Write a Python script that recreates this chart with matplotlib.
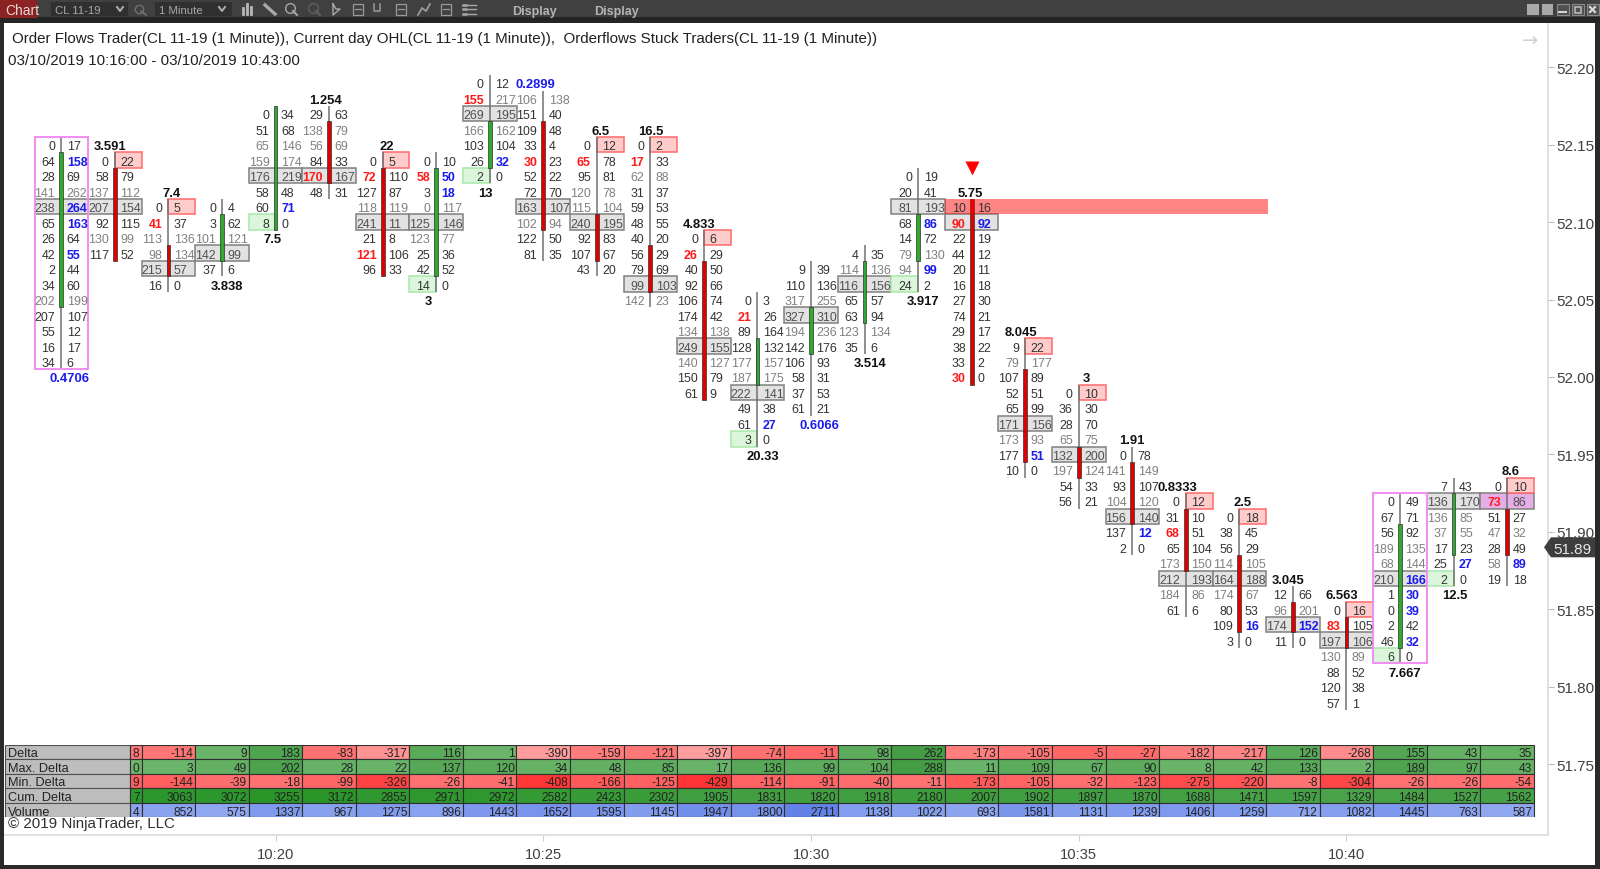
import matplotlib
matplotlib.use("Agg")
import matplotlib.pyplot as plt
from matplotlib.patches import Rectangle, Polygon
from matplotlib.lines import Line2D
from matplotlib.transforms import Affine2D

plt.rcParams['font.family'] = ['Liberation Sans', 'DejaVu Sans']

# ---------- data ----------
minutes = list(range(16, 44))
top_cents = [5215, 5214, 5211, 5211, 5217, 5217, 5214, 5214, 5219, 5218, 5215, 5215, 5209, 5205,
             5207, 5208, 5213, 5211, 5202, 5199, 5195, 5192, 5191, 5186, 5185, 5192, 5193, 5193]
bid_volumes = [
    [0, 64, 28, 141, 238, 65, 26, 42, 2, 34, 202, 207, 55, 16, 34],
    [0, 58, 137, 207, 92, 130, 117],
    [0, 41, 113, 98, 215, 16],
    [0, 3, 101, 142, 37],
    [0, 51, 65, 159, 176, 58, 60, 8],
    [29, 138, 56, 84, 170, 48],
    [0, 72, 127, 118, 241, 21, 121, 96],
    [0, 58, 3, 0, 125, 123, 25, 42, 14],
    [0, 155, 269, 166, 103, 26, 2],
    [106, 151, 109, 33, 30, 52, 72, 163, 102, 122, 81],
    [0, 65, 95, 120, 115, 240, 92, 107, 43],
    [0, 17, 62, 31, 59, 48, 40, 56, 79, 99, 142],
    [0, 26, 40, 92, 106, 174, 134, 249, 140, 150, 61],
    [0, 21, 89, 128, 177, 187, 222, 49, 61, 3],
    [9, 110, 317, 327, 194, 142, 106, 58, 37, 61],
    [4, 114, 116, 65, 63, 123, 35],
    [0, 20, 81, 68, 14, 79, 94, 24],
    [10, 90, 22, 44, 20, 16, 27, 74, 29, 38, 33, 30],
    [9, 79, 107, 52, 65, 171, 173, 177, 10],
    [0, 36, 28, 65, 132, 197, 54, 56],
    [0, 141, 93, 104, 156, 137, 2],
    [0, 31, 68, 65, 173, 212, 184, 61],
    [0, 38, 56, 114, 164, 174, 80, 109, 3],
    [12, 96, 174, 11],
    [0, 83, 197, 130, 88, 120, 57],
    [0, 67, 56, 189, 68, 210, 1, 0, 2, 46, 6],
    [7, 136, 136, 37, 17, 25, 2],
    [0, 73, 51, 47, 28, 58, 19],
]
ask_volumes = [
    [17, 158, 69, 262, 264, 163, 64, 55, 44, 60, 199, 107, 12, 17, 6],
    [22, 79, 112, 154, 115, 99, 52],
    [5, 37, 136, 134, 57, 0],
    [4, 62, 121, 99, 6],
    [34, 68, 146, 174, 219, 48, 71, 0],
    [63, 79, 69, 33, 167, 31],
    [5, 110, 87, 119, 11, 8, 106, 33],
    [10, 50, 18, 117, 146, 77, 36, 52, 0],
    [12, 217, 195, 162, 104, 32, 0],
    [138, 40, 48, 4, 23, 22, 70, 107, 94, 50, 35],
    [12, 78, 81, 78, 104, 195, 83, 67, 20],
    [2, 33, 88, 37, 53, 55, 20, 29, 69, 103, 23],
    [6, 29, 50, 66, 74, 42, 138, 155, 127, 79, 9],
    [3, 26, 164, 132, 157, 175, 141, 38, 27, 0],
    [39, 136, 255, 310, 236, 176, 93, 31, 53, 21],
    [35, 136, 156, 57, 94, 134, 6],
    [19, 41, 193, 86, 72, 130, 99, 2],
    [16, 92, 19, 12, 11, 18, 30, 21, 17, 22, 2, 0],
    [22, 177, 89, 51, 99, 156, 93, 51, 0],
    [10, 30, 70, 75, 200, 124, 33, 21],
    [78, 149, 107, 120, 140, 12, 0],
    [12, 10, 51, 104, 150, 193, 86, 6],
    [18, 45, 29, 105, 188, 67, 53, 16, 0],
    [66, 201, 152, 0],
    [16, 105, 106, 89, 52, 38, 1],
    [49, 71, 92, 135, 144, 166, 30, 39, 42, 32, 0],
    [43, 170, 85, 55, 23, 27, 0],
    [10, 86, 27, 32, 49, 89, 18],
]
poc_row = [4, 3, 4, 3, 4, 4, 4, 4, 2, 7, 5, 9, 7, 6, 3, 2, 2, 1, 5, 4, 4, 5, 4, 2, 2, 5, 1, 1]
body_first = [1, 1, 3, 1, 0, 1, 1, 1, 3, 2, 5, 7, 2, 3, 3, 1, 3, 0, 2, 4, 1, 1, 3, 1, 1, 2, 1, 2]
body_last = [10, 6, 4, 3, 7, 4, 7, 7, 5, 8, 7, 9, 10, 5, 5, 4, 5, 11, 7, 5, 4, 4, 7, 2, 2, 9, 4, 4]
bar_up = [1, 0, 0, 1, 1, 0, 0, 1, 1, 0, 0, 0, 0, 1, 1, 1, 1, 0, 0, 0, 0, 0, 0, 0, 0, 1, 1, 0]
red_top_ask = [1, 2, 6, 10, 11, 12, 18, 19, 21, 22, 24, 27]
green_low_bid = [4, 7, 8, 13, 16, 25, 26]
red_bids = {2: [1], 5: [4], 6: [1, 6], 7: [1], 8: [1], 9: [4], 10: [1], 11: [1], 12: [1], 13: [1],
            17: [1, 11], 21: [2], 24: [1], 27: [1]}
blue_asks = {0: [1, 4, 5, 7], 4: [6], 7: [1, 2], 8: [5], 13: [8], 16: [3, 6], 17: [1], 18: [7],
             20: [5], 22: [7], 23: [2], 25: [5, 6, 7, 9], 26: [5], 27: [5]}
faded_rows = {0: [3, 10], 1: [2, 5], 2: [2, 3], 3: [2], 4: [2, 3], 5: [1, 2], 6: [3], 7: [3, 5], 8: [1, 3],
              9: [0, 8], 10: [3, 4], 11: [2, 10], 12: [6, 8], 13: [4, 5], 14: [2, 4], 15: [1, 5], 16: [5, 6],
              18: [1, 6], 19: [3, 5], 20: [1, 3], 21: [4, 6], 22: [3, 5], 23: [1], 24: [3], 25: [3, 4],
              26: [2, 3], 27: [3, 5]}
ratio_labels = ['0.4706', '3.591', '7.4', '3.838', '7.5', '1.254', '22', '3', '13', '0.2899', '6.5', '16.5',
                '4.833', '20.33', '0.6066', '3.514', '3.917', '5.75', '8.045', '3', '1.91', '0.8333',
                '2.5', '3.045', '6.563', '7.667', '12.5', '8.6']
label_above = [0, 1, 1, 0, 0, 1, 1, 0, 0, 1, 1, 1, 1, 0, 0, 0, 0, 1, 1, 1, 1, 1, 1, 1, 1, 0, 0, 1]
label_shift_px = [8.7, -5, 3, 5, -2.5, -4, 4.5, -8, -4, -8, 3.3, 0, -5, 5.5, 8, 5, 5, -1, -4.7, 8, -0.7, -8,
                  3, -5, -5, 5, 1.5, 3]
blue_labels = ['0.4706', '0.2899', '0.6066']
framed_bars = [0, 25]
stuck_bar = 17
stuck_price = 52.11
stuck_end_minute = 38.54

row_names = ['Delta', 'Max. Delta', 'Min. Delta', 'Cum. Delta', 'Volume']
hidden_digits = ['8', '0', '9', '7', '4']
delta = [-114, 9, 183, -83, -317, 116, 1, -390, -159, -121, -397, -74, -11, 98, 262, -173, -105, -5, -27,
         -182, -217, 126, -268, 155, 43, 35]
max_delta = [3, 49, 202, 28, 22, 137, 120, 34, 48, 85, 17, 136, 99, 104, 288, 11, 109, 67, 90, 8, 42, 133, 2,
             189, 97, 43]
min_delta = [-144, -39, -18, -99, -326, -26, -41, -408, -166, -125, -429, -114, -91, -40, -11, -173, -105, -32,
             -123, -275, -220, -8, -304, -26, -26, -54]
cum_delta = [3063, 3072, 3255, 3172, 2855, 2971, 2972, 2582, 2423, 2302, 1905, 1831, 1820, 1918, 2180, 2007,
             1902, 1897, 1870, 1688, 1471, 1597, 1329, 1484, 1527, 1562]
volume = [852, 575, 1337, 967, 1275, 896, 1443, 1652, 1595, 1145, 1947, 1800, 2711, 1138, 1022, 693, 1581,
          1131, 1239, 1406, 1259, 712, 1082, 1445, 763, 587]
price_ticks = [51.75, 51.80, 51.85, 51.90, 51.95, 52.00, 52.05, 52.10, 52.15, 52.20]
time_ticks = [20, 25, 30, 35, 40]
time_labels = ['10:20', '10:25', '10:30', '10:35', '10:40']
last_price = 51.89

# ---------- layout ----------
W, H = 1600, 870
PX_PER_MIN = 53.55
PX_PER_USD = 1548.5
X20, Y5215 = 275.5, 145.7
AX_L, AX_R, AX_T, AX_B = 4, 1548, 24, 835.7


def min_at(px):
    return 20 + (px - X20) / PX_PER_MIN


def price_at(py):
    return 52.15 - (py - Y5215) / PX_PER_USD


fig = plt.figure(figsize=(W / 100, H / 100), dpi=100, facecolor='white')
ax = fig.add_axes([AX_L / W, 1 - AX_B / H, (AX_R - AX_L) / W, (AX_B - AX_T) / H])
ax.set_xlim(min_at(AX_L), min_at(AX_R))
ax.set_ylim(price_at(AX_B), price_at(AX_T))
for s in ['top', 'left']:
    ax.spines[s].set_visible(False)
for s in ['right', 'bottom']:
    ax.spines[s].set_color('#dcdcdc')
    ax.spines[s].set_linewidth(1.2)
ax.yaxis.tick_right()
ax.set_yticks(price_ticks, [f'{p:.2f}' for p in price_ticks])
ax.set_xticks(time_ticks, time_labels)
ax.tick_params(axis='y', length=4, color='#bdbdbd', labelsize=11, labelcolor='#404040', pad=2)
ax.tick_params(axis='x', length=4, color='#cfcfcf', labelsize=10.6, labelcolor='#404040', pad=5)

HALF_W = 26.8 / PX_PER_MIN
ROW = 0.01
BID_OFF = 6 / PX_PER_MIN
ASK_OFF = 5.5 / PX_PER_MIN
FS = 8.9

for i, m in enumerate(minutes):
    top = top_cents[i] / 100
    bids, asks = bid_volumes[i], ask_volumes[i]
    n = len(bids)
    prices = [top - k * ROW for k in range(n)]
    ax.plot([m, m], [top + ROW / 2, prices[-1] - ROW / 2], color='#707070', lw=1.1, zorder=3, solid_capstyle='butt')
    p = prices[poc_row[i]]
    face = '#e2e2e2'
    if i == 27:
        face = '#e6aee6'
    ax.add_patch(Rectangle((m - HALF_W, p - ROW / 2), 2 * HALF_W, ROW, fc=face, ec='#808080', lw=1.1, zorder=2))
    if i in red_top_ask:
        ax.add_patch(Rectangle((m, top - ROW / 2), HALF_W, ROW, fc='#ffcccc', ec='#ff6a6a', lw=1.1, zorder=2))
    if i in green_low_bid:
        ax.add_patch(Rectangle((m - HALF_W, prices[-1] - ROW / 2), HALF_W, ROW, fc='#dcf6dc', ec='#a8e8a8', lw=1.1,
                               zorder=2))
    hi = prices[body_first[i]] + ROW / 2
    lo = prices[body_last[i]] - ROW / 2
    ax.add_patch(Rectangle((m - 1.9 / PX_PER_MIN, lo), 3.8 / PX_PER_MIN, hi - lo,
                           fc='#2eaa2e' if bar_up[i] else '#e00000', ec='#303030', lw=0.5, zorder=4))
    for k in range(n):
        base = '#808080' if k in faded_rows.get(i, []) else '#333333'
        if k == poc_row[i]:
            base = '#505050'
        if k in red_bids.get(i, []):
            ax.text(m - BID_OFF, prices[k], str(bids[k]), ha='right', va='center_baseline', fontsize=FS,
                    color='#ff1a1a', fontweight='bold', zorder=6)
        else:
            ax.text(m - BID_OFF, prices[k], str(bids[k]), ha='right', va='center_baseline', fontsize=FS, color=base,
                    zorder=6)
        if k in blue_asks.get(i, []):
            ax.text(m + ASK_OFF, prices[k], str(asks[k]), ha='left', va='center_baseline', fontsize=FS,
                    color='#1a1aee', fontweight='bold', zorder=6)
        else:
            ax.text(m + ASK_OFF, prices[k], str(asks[k]), ha='left', va='center_baseline', fontsize=FS, color=base,
                    zorder=6)
    ly = top + ROW if label_above[i] else prices[-1] - ROW
    lc = '#1a1aee' if ratio_labels[i] in blue_labels else '#111111'
    ax.text(m + label_shift_px[i] / PX_PER_MIN, ly, ratio_labels[i], ha='center', va='center_baseline', fontsize=9.4,
            fontweight='bold', color=lc, zorder=6)
    if i in framed_bars:
        ax.add_patch(Rectangle((m - HALF_W, prices[-1] - ROW / 2), 2 * HALF_W, n * ROW, fc='none', ec='#f090f0', lw=1.5,
                               zorder=5))

sm = minutes[stuck_bar]
ax.add_patch(Rectangle((sm - HALF_W, stuck_price - ROW / 2), stuck_end_minute - sm + HALF_W, ROW, fc='#ff0000',
                       alpha=0.48, ec='none', zorder=5))
ax.plot([sm], [stuck_price + 2.5 * ROW], marker='v', ms=10.5, color='#ff0000', mec='none', zorder=6)

ax.text(min_at(1530), price_at(41.7), '\u2192', fontsize=14, color='#d0d0d0', ha='center', va='center',
        family=['DejaVu Sans'])

# ---------- table ----------
tb = fig.add_axes([AX_L / W, 1 - 818.3 / H, (AX_R - AX_L) / W, (818.3 - 745.7) / H], sharex=ax)
tb.set_ylim(5, 0)
tb.axis('off')
tb.patch.set_alpha(0)


def mix(a, b, t):
    t = max(0, min(1, t))
    ca, cb = matplotlib.colors.to_rgb(a), matplotlib.colors.to_rgb(b)
    return tuple(x + (y - x) * t for x, y in zip(ca, cb))


def delta_col(v):
    if v < 0:
        return mix('#ff6666', '#ff9e9e', abs(v) / 400)
    return mix('#6ab56a', '#449c44', v / 262)


def min_col(v):
    return mix('#ff7474', '#ff3434', abs(v) / 430)


def cum_col(v):
    return mix('#4aa34a', '#2a962a', (v - 1300) / 1900)


def vol_col(v):
    return mix('#8fa7f0', '#6282e8', (v - 600) / 2100)


table_rows = [delta, max_delta, min_delta, cum_delta, volume]
painters = [delta_col, delta_col, min_col, cum_col, vol_col]
X_COL0 = minutes[2] - HALF_W
for r, (vals, colf) in enumerate(zip(table_rows, painters)):
    tb.add_patch(Rectangle((min_at(5), r), min_at(130) - min_at(5), 1, fc='#bdbdbd', ec='#505050', lw=0.8))
    tb.text(min_at(8), r + 0.5, row_names[r], fontsize=9.2, color='#222222', va='center_baseline', ha='left', zorder=5)
    sample = vals[0]
    tb.add_patch(Rectangle((min_at(130), r), X_COL0 - min_at(130), 1, fc=colf(sample), ec='#303030', lw=0.8))
    tb.text(X_COL0 - 2 / PX_PER_MIN, r + 0.5, hidden_digits[r], fontsize=8.6, color='#222222', va='center_baseline',
            ha='right')
    for c, v in enumerate(vals):
        m = minutes[c + 2]
        tb.add_patch(Rectangle((m - HALF_W, r), 2 * HALF_W, 1, fc=colf(v), ec='#303030', lw=0.8))
        tb.text(m + HALF_W - 2 / PX_PER_MIN, r + 0.5, str(v), fontsize=8.6, color='#222222', va='center_baseline',
                ha='right')

# ---------- window chrome (pixel space) ----------
px = Affine2D().scale(1 / W, -1 / H).translate(0, 1) + fig.transFigure


def box(x0, y0, x1, y1, fc, ec='none', lw=0, z=20):
    fig.add_artist(Rectangle((x0, y0), x1 - x0, y1 - y0, fc=fc, ec=ec, lw=lw, transform=px, zorder=z))


def seg(xs, ys, c='#9a9a9a', lw=1.2, z=21):
    fig.add_artist(Line2D(xs, ys, color=c, lw=lw, transform=px, zorder=z))


def label(x, y, s, size=9, c='#a8a8a8', ha='left', w='normal'):
    fig.text(x / W, 1 - y / H, s, fontsize=size, color=c, ha=ha, va='center_baseline', fontweight=w, zorder=22)


box(0, 0, W, 24, '#404040')
box(0, 18, W, 24, '#242424')
box(0, 24, 4, H, '#2a2a2a')
box(1595, 24, W, H, '#2a2a2a')
box(0, 866, W, H, '#2a2a2a')
box(0, 0, 37, 19, '#8c2222')
label(5, 9.5, 'Chart', 10, '#e8d8d8')
box(51, 3, 128, 17, '#303030')
label(55, 10, 'CL 11-19', 8.2)
box(154.5, 3, 231.6, 17, '#303030')
label(159, 10, '1 Minute', 8.2)
for cx in [120, 222]:
    seg([cx - 3, cx, cx + 3], [8, 12, 8], '#b0b0b0', 1.4)
seg([141, 146], [12, 16], '#707070', 1.3)
fig.add_artist(Line2D([138.5], [9.5], marker='o', ms=6, mfc='none', mec='#707070', transform=px, zorder=21))
for bx, ytop in zip([243, 247, 251], [9, 5, 8]):
    seg([bx, bx], [ytop, 15], '#b8b8b8', 2)
seg([265, 275], [6, 15], '#a8a8a8', 2.4)
for cx, col in zip([290, 313], ['#a8a8a8', '#606060']):
    fig.add_artist(Line2D([cx], [9], marker='o', ms=7, mfc='none', mec=col, transform=px, zorder=21))
    seg([cx + 3, cx + 7], [12, 16], col, 1.5)
seg([333, 333, 340, 336, 333], [5, 16, 10, 10, 5], '#a8a8a8', 1)
for bx in [353, 396, 441]:
    box(bx, 5, bx + 10, 16, 'none', '#9a9a9a', 0.9, 21)
    seg([bx + 2, bx + 8], [10, 10], '#9a9a9a', 0.9)
seg([374, 374, 380, 380], [5, 12, 12, 5], '#9a9a9a', 1.1)
seg([418, 422, 426, 430], [16, 9, 12, 5], '#9a9a9a', 1.3)
for by in [6, 10, 15]:
    seg([463, 466], [by, by], '#a8a8a8', 1.8)
    seg([468, 476], [by, by], '#a8a8a8', 1)
label(512, 10, 'Display', 9, '#b4b4b4', w='bold')
label(594, 10, 'Display', 9, '#b4b4b4', w='bold')
box(1526.7, 5, 1538.7, 16, '#a8a8a8')
box(1541.7, 5, 1553, 16, '#a8a8a8')
for bx in [1556.7, 1571.7, 1586.7]:
    box(bx, 5, bx + 11.8, 16, '#505050', '#8a8a8a', 0.8)
seg([1559, 1566], [13, 13], '#d8d8d8', 1.4)
box(1574.5, 8, 1581, 14, 'none', '#c0c0c0', 1.1, 21)
seg([1590, 1595], [8, 13], '#d8d8d8', 1.6)
seg([1590, 1595], [13, 8], '#d8d8d8', 1.6)

fig.text(12 / W, 1 - 38 / H, 'Order Flows Trader(CL 11-19 (1 Minute)), Current day OHL(CL 11-19 (1 Minute)),  '
         'Orderflows Stuck Traders(CL 11-19 (1 Minute))', fontsize=10.92, color='#202020', va='center_baseline',
         zorder=22)
fig.text(8 / W, 1 - 59.3 / H, '03/10/2019 10:16:00 - 03/10/2019 10:43:00', fontsize=10.92, color='#202020',
         va='center_baseline', zorder=22)
fig.text(8 / W, 1 - 822.7 / H, '\u00a9 2019 NinjaTrader, LLC', fontsize=10.9, color='#303030', va='center_baseline',
         zorder=22)

cy = Y5215 + (52.15 - last_price) * PX_PER_USD
fig.add_artist(Polygon([(1544, cy), (1551, cy - 10), (1595, cy - 10), (1595, cy + 10), (1551, cy + 10)],
                       closed=True, fc='#3e3e3e', ec='none', transform=px, zorder=21))
fig.text(1572.5 / W, 1 - cy / H, f'{last_price:.2f}', fontsize=11, color='#e8e8e8', ha='center', va='center_baseline',
         zorder=22)

fig.savefig('out.png', dpi=100, facecolor='white')
